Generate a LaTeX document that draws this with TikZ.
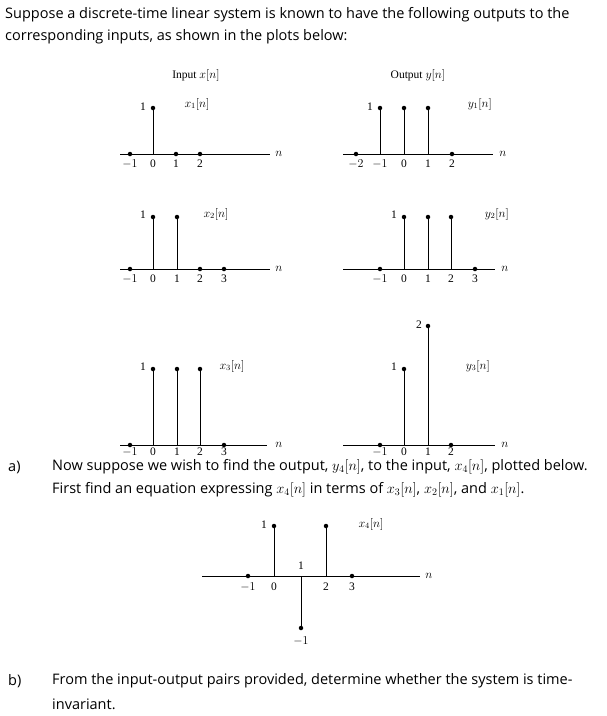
\documentclass[tikz,border=0pt]{standalone}
\usepackage{fontspec}
\setmainfont{Open Sans}
\newfontfamily\plotfont{Liberation Serif}
\begin{document}
\begin{tikzpicture}[x=1pt,y=-1pt,
  txt/.style={anchor=west,inner sep=0pt,font=\fontsize{14.5}{15}\selectfont},
  lab/.style={inner sep=0pt,font=\plotfont\fontsize{11.5}{12}\selectfont},
  axisline/.style={line width=0.7pt},
  stem/.style={line width=1pt},
  dot/.style={circle,fill=black,inner sep=0pt,minimum size=4.5pt}]
\useasboundingbox (0,0) rectangle (607,716);
\newcommand\axisplot[4]{% x0 x1 y labelx
  \draw[axisline] (#1,#3) -- (#2,#3);
  \node[lab] at (#4,#3) {$n$};}
\newcommand\stemv[5]{% x yaxis ytop ticklabel tick y
  \draw[stem] (#1,#2) -- (#1,#3);
  \node[dot] at (#1,#3) {};
  \node[lab] at (#1,#5) {#4};}
\newcommand\zero[4]{\node[dot] at (#1,#2) {}; \node[lab] at (#1,#4) {#3};}

\node[txt] at (5,15) {Suppose a discrete-time linear system is known to have the following outputs to the};
\node[txt] at (5,37) {corresponding inputs, as shown in the plots below:};

\node[lab] at (196,75) {Input $x[n]$};
\node[lab] at (418,75) {Output $y[n]$};

% x1
\axisplot{120}{270}{154}{279}
\zero{130}{154}{$-1$}{164}
\stemv{153}{154}{108}{0}{164}
\zero{176}{154}{1}{164}
\zero{200}{154}{2}{164}
\node[lab] at (143,107) {1};
\node[lab] at (197,104) {$x_1[n]$};
% y1
\axisplot{343}{493}{154}{503}
\zero{356}{154}{$-2$}{164}
\stemv{380}{154}{108}{$-1$}{164}
\stemv{404}{154}{108}{0}{164}
\stemv{428}{154}{108}{1}{164}
\zero{452}{154}{2}{164}
\node[lab] at (370,107) {1};
\node[lab] at (480,104) {$y_1[n]$};
% x2
\axisplot{120}{270}{269}{279}
\zero{130}{269}{$-1$}{279}
\stemv{153}{269}{217}{0}{279}
\stemv{177}{269}{217}{1}{279}
\zero{200}{269}{2}{279}
\zero{224}{269}{3}{279}
\node[lab] at (143,215) {1};
\node[lab] at (216,214) {$x_2[n]$};
% y2
\axisplot{343}{495}{269}{505}
\zero{380}{269}{$-1$}{279}
\stemv{404}{269}{217}{0}{279}
\stemv{428}{269}{217}{1}{279}
\stemv{451}{269}{217}{2}{279}
\zero{475}{269}{3}{279}
\node[lab] at (394,215) {1};
\node[lab] at (497,214) {$y_2[n]$};
% x3
\axisplot{120}{267}{445}{279}
\zero{130}{445}{$-1$}{452}
\stemv{153}{445}{369}{0}{452}
\stemv{177}{445}{369}{1}{452}
\stemv{200}{445}{369}{2}{452}
\zero{224}{445}{3}{452}
\node[lab] at (143,367) {1};
\node[lab] at (232,366) {$x_3[n]$};
% y3
\axisplot{343}{495}{445}{505}
\zero{380}{445}{$-1$}{452}
\stemv{404}{445}{369}{0}{452}
\stemv{428}{445}{326}{1}{452}
\zero{451}{445}{2}{452}
\node[lab] at (394,367) {1};
\node[lab] at (419,325) {2};
\node[lab] at (478,366) {$y_3[n]$};

\node[txt] at (8,467) {a)};
\node[txt] at (52,467) {Now suppose we wish to find the output, $y_4[n]$, to the input, $x_4[n]$, plotted below.};
\node[txt] at (52,490) {First find an equation expressing $x_4[n]$ in terms of $x_3[n]$, $x_2[n]$, and $x_1[n]$.};

% x4
\axisplot{202}{420}{576}{429}
\zero{248}{576}{$-1$}{587}
\stemv{274}{576}{526}{0}{587}
\draw[stem] (301,576) -- (301,628); \node[dot] at (301,628) {};
\node[lab] at (301,566) {1};
\node[lab] at (301,641) {$-1$};
\stemv{326}{576}{526}{2}{587}
\zero{352}{576}{3}{587}
\node[lab] at (264,525) {1};
\node[lab] at (371,524) {$x_4[n]$};

\node[txt] at (8,681) {b)};
\node[txt] at (52,681) {From the input-output pairs provided, determine whether the system is time-};
\node[txt] at (52,704) {invariant.};
\end{tikzpicture}
\end{document}
